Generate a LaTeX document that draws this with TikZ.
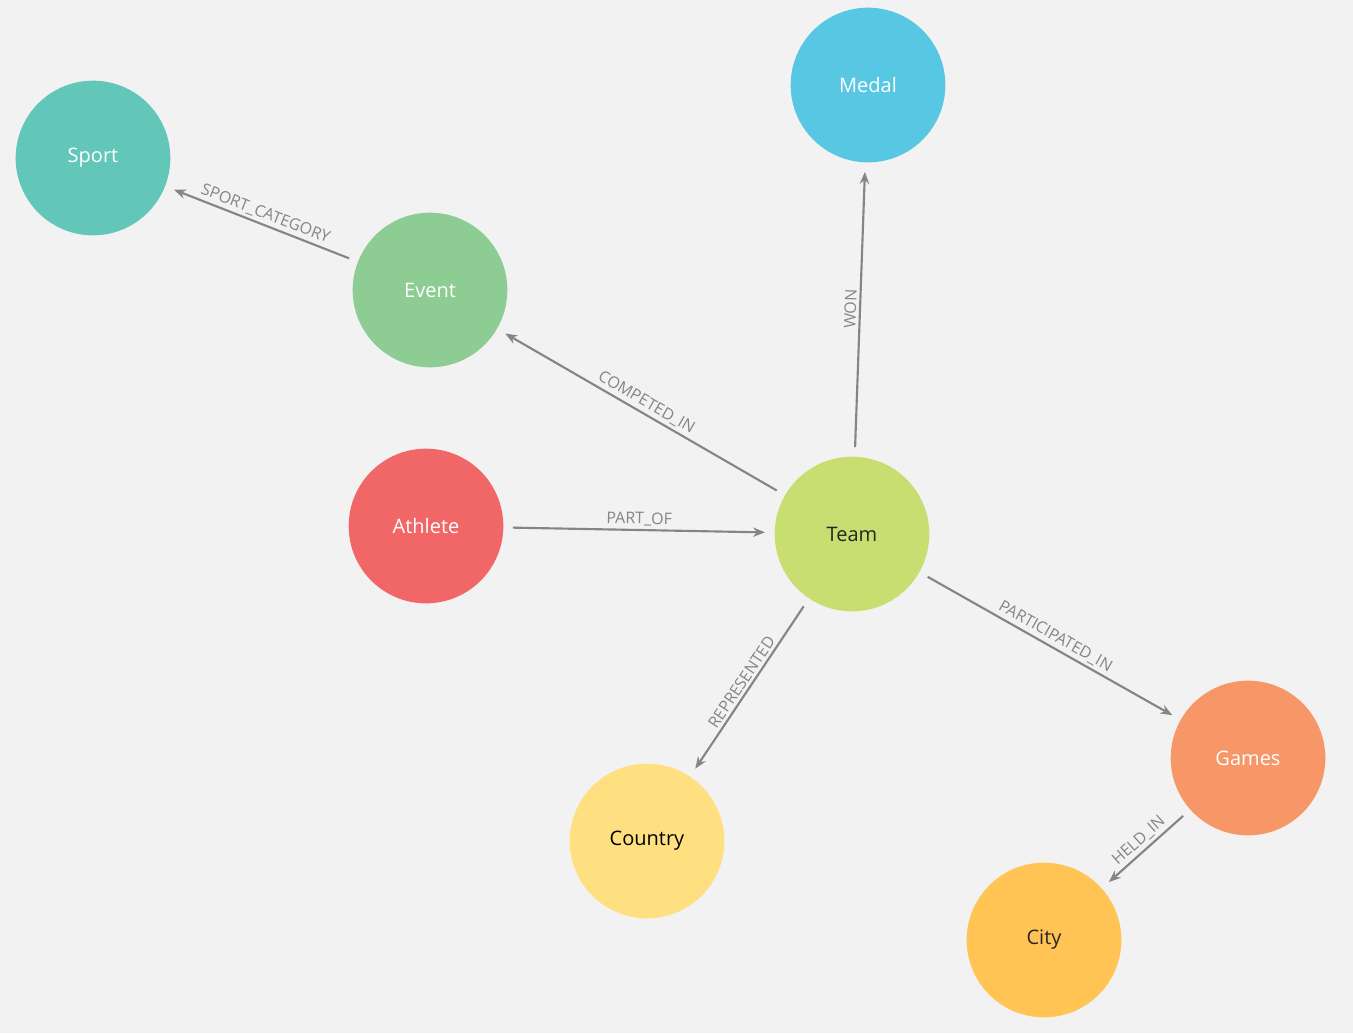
\documentclass[tikz,border=0pt]{standalone}
\usepackage{fontspec}
\setmainfont{Open Sans}
\usetikzlibrary{arrows.meta}
\definecolor{bg}{HTML}{F2F2F2}
\definecolor{cSport}{HTML}{62C6B9}
\definecolor{cEvent}{HTML}{8DCC93}
\definecolor{cMedal}{HTML}{57C7E3}
\definecolor{cAthlete}{HTML}{F16667}
\definecolor{cTeam}{HTML}{C9DE70}
\definecolor{cCountry}{HTML}{FFE081}
\definecolor{cGames}{HTML}{F79767}
\definecolor{cCity}{HTML}{FFC454}
\definecolor{edge}{HTML}{858585}
\tikzset{
  gnode/.style={circle,minimum size=116pt,inner sep=0pt,font=\fontsize{15}{17}\selectfont,text=white},
  dark/.style={text=black!85},
  rel/.style={draw=edge,line width=1.6pt,-{Stealth[length=9pt,width=7pt]},shorten <=7pt,shorten >=7pt},
  rlab/.style={sloped,above,text=edge,font=\fontsize{12}{14}\selectfont,inner sep=2pt}
}
\begin{document}
\begin{tikzpicture}[x=0.75pt,y=-0.75pt]
\fill[bg] (0,0) rectangle (1353,1033);
\useasboundingbox (0,0) rectangle (1353,1033);
\node[gnode,fill=cSport] (sport) at (93,158) {Sport};
\node[gnode,fill=cEvent] (event) at (430,290) {Event};
\node[gnode,fill=cMedal] (medal) at (868,85) {Medal};
\node[gnode,fill=cAthlete] (athlete) at (426,526) {Athlete};
\node[gnode,fill=cTeam,dark] (team) at (852,534) {Team};
\node[gnode,fill=cCountry,text=black] (country) at (647,841) {Country};
\node[gnode,fill=cGames] (games) at (1248,758) {Games};
\node[gnode,fill=cCity,dark] (city) at (1044,940) {City};
\draw[rel] (event) -- node[rlab]{SPORT\_CATEGORY} (sport);
\draw[rel] (team) -- node[rlab]{COMPETED\_IN} (event);
\draw[rel] (team) -- node[rlab]{WON} (medal);
\draw[rel] (athlete) -- node[rlab]{PART\_OF} (team);
\draw[rel] (team) -- node[rlab]{REPRESENTED} (country);
\draw[rel] (team) -- node[rlab]{PARTICIPATED\_IN} (games);
\draw[rel] (games) -- node[rlab]{HELD\_IN} (city);
\end{tikzpicture}
\end{document}
